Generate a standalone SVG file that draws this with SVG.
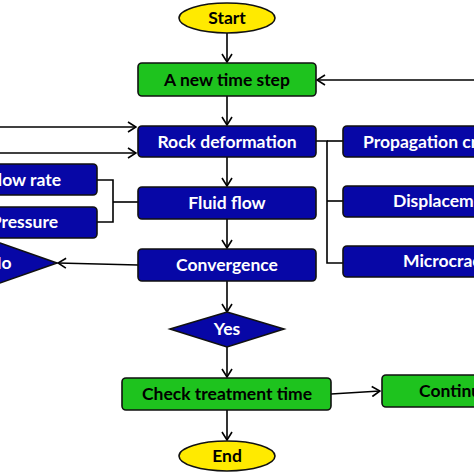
<svg xmlns="http://www.w3.org/2000/svg" width="474" height="474" viewBox="0 0 474 474">
<defs>
<marker id="ah" markerWidth="10" markerHeight="12" refX="9" refY="6" orient="auto" markerUnits="userSpaceOnUse">
<path d="M1,1 L9,6 L1,11" fill="none" stroke="#000" stroke-width="1.6"/>
</marker>
<style>
.g{fill:#1ec31e;stroke:#111;stroke-width:1.6}
.b{fill:#0707a6;stroke:#111;stroke-width:1.6}
.y{fill:#ffea00;stroke:#111;stroke-width:1.6}
.tk{font-family:Lato,"Open Sans",sans-serif;font-weight:bold;font-size:17.5px;fill:#000;text-anchor:middle}
.tw{font-family:Lato,"Open Sans",sans-serif;font-weight:bold;font-size:17.5px;fill:#fff;text-anchor:middle}
.c{fill:none;stroke:#000;stroke-width:1.6}
</style>
</defs>
<rect width="474" height="474" fill="#fff"/>
<g id="connectors">
<line class="c" x1="227" y1="33" x2="227" y2="62" marker-end="url(#ah)"/>
<line class="c" x1="474" y1="80" x2="317" y2="80" marker-end="url(#ah)"/>
<line class="c" x1="227" y1="96" x2="227" y2="125" marker-end="url(#ah)"/>
<line class="c" x1="0" y1="127" x2="136" y2="127" marker-end="url(#ah)"/>
<line class="c" x1="0" y1="153" x2="136" y2="153" marker-end="url(#ah)"/>
<line class="c" x1="227" y1="157" x2="227" y2="186" marker-end="url(#ah)"/>
<line class="c" x1="227" y1="219" x2="227" y2="248" marker-end="url(#ah)"/>
<polyline class="c" points="316,141 327,141 327,263 343,263"/>
<line class="c" x1="327" y1="201" x2="343" y2="201"/>
<line class="c" x1="327" y1="141" x2="343" y2="141"/>
<polyline class="c" points="97,180 113,180 113,222 97,222"/>
<line class="c" x1="113" y1="202" x2="138" y2="202"/>
<line class="c" x1="138" y1="265" x2="58" y2="263" marker-end="url(#ah)"/>
<line class="c" x1="227" y1="281" x2="227" y2="312" marker-end="url(#ah)"/>
<line class="c" x1="227" y1="347" x2="227" y2="377" marker-end="url(#ah)"/>
<line class="c" x1="331" y1="394" x2="380" y2="391" marker-end="url(#ah)"/>
<line class="c" x1="227" y1="410" x2="227" y2="440" marker-end="url(#ah)"/>
</g>
<g id="start"><ellipse class="y" cx="227" cy="18" rx="48" ry="15"/><text class="tk" x="227" y="24">Start</text></g>
<g id="new-time-step"><rect class="g" x="138" y="63" width="178" height="33" rx="4"/><text class="tk" x="227" y="86">A new time step</text></g>
<g id="rock-deformation"><rect class="b" x="138" y="126" width="178" height="31" rx="4"/><text class="tw" x="227" y="148">Rock deformation</text></g>
<g id="fluid-flow"><rect class="b" x="138" y="187" width="178" height="32" rx="4"/><text class="tw" x="227" y="209">Fluid flow</text></g>
<g id="convergence"><rect class="b" x="138" y="249" width="178" height="32" rx="4"/><text class="tw" x="227" y="271">Convergence</text></g>
<g id="flow-rate"><rect class="b" x="-90" y="164" width="187" height="31" rx="4"/><text class="tw" x="61" y="186" style="text-anchor:end">Flow rate</text></g>
<g id="pressure"><rect class="b" x="-90" y="207" width="187" height="31" rx="4"/><text class="tw" x="58" y="228" style="text-anchor:end">Pressure</text></g>
<g id="no"><polygon class="b" points="0,243 57,263 0,283 -57,263"/><text class="tw" x="0" y="269">No</text></g>
<g id="propagation"><rect class="b" x="343" y="126" width="200" height="31" rx="4"/><text class="tw" x="363" y="148" style="text-anchor:start">Propagation crack</text></g>
<g id="displacement"><rect class="b" x="343" y="186" width="200" height="31" rx="4"/><text class="tw" x="393" y="207" style="text-anchor:start">Displacement</text></g>
<g id="microcrack"><rect class="b" x="343" y="246" width="200" height="31" rx="4"/><text class="tw" x="403" y="267" style="text-anchor:start">Microcrack</text></g>
<g id="yes"><polygon class="b" points="227,312 284,329 227,347 170,329"/><text class="tw" x="227" y="335">Yes</text></g>
<g id="check"><rect class="g" x="122" y="378" width="209" height="32" rx="4"/><text class="tk" x="227" y="400">Check treatment time</text></g>
<g id="continue"><rect class="g" x="382" y="375" width="160" height="32" rx="4"/><text class="tk" x="419" y="397" style="text-anchor:start">Continue</text></g>
<g id="end"><ellipse class="y" cx="227" cy="456" rx="48" ry="15"/><text class="tk" x="227" y="462">End</text></g>
</svg>
